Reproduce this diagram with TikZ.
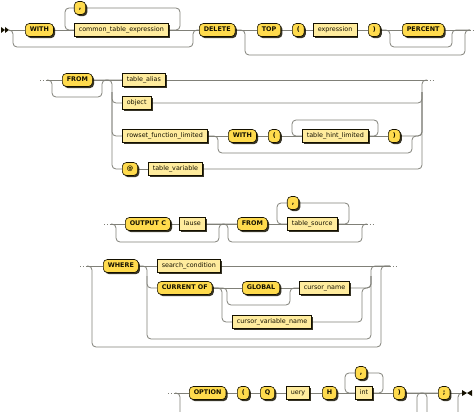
\documentclass[tikz,border=0pt]{standalone}
\usepackage{fontspec}
\setsansfont{DejaVu Sans}
\usetikzlibrary{backgrounds, shadows}

\definecolor{termfill}{RGB}{255,219,77}
\definecolor{ntfill}{RGB}{255,236,158}
\definecolor{boxline}{RGB}{20,16,0}
\definecolor{trackcol}{RGB}{128,128,120}

\tikzset{
  box/.style = {draw=boxline, line width=0.6pt, anchor=west,
    minimum height=13pt, inner xsep=4.5pt, inner ysep=0pt,
    text height=4.7pt, text depth=1.3pt, text=boxline,
    font=\sffamily\fontsize{6.4}{7}\selectfont,
    drop shadow={shadow xshift=1.6pt, shadow yshift=-1.6pt, fill=boxline, opacity=0.85}},
  term/.style = {box, fill=termfill, rounded corners=4pt,
    font=\sffamily\bfseries\fontsize{6.4}{7}\selectfont},
  nonterm/.style = {box, fill=ntfill},
  track/.style = {draw=trackcol, line width=0.8pt, rounded corners=4pt},
  lead/.style = {draw=trackcol, line width=0.8pt, dotted},
  tip/.style = {fill=boxline},
}

\begin{document}
\begin{tikzpicture}[x=1pt, y=-1pt]
  \useasboundingbox (0,0) rectangle (474,412);

  % row 1: WITH ... DELETE TOP ( expression ) PERCENT
  \node[term] (with) at (25,30) {WITH};
  \node[nonterm] (cte) at (74,30) {common\_table\_expression};
  \node[term, anchor=center] (comma1) at (80,8) {,};
  \node[term] (delete) at (199,30) {DELETE};
  \node[term] (top) at (257,30) {TOP};
  \node[term] (lpar1) at (292,30) {(};
  \node[nonterm] (expr) at (313,30) {expression};
  \node[term] (rpar1) at (368,30) {)};
  \node[term] (percent) at (402,30) {PERCENT};
  \coordinate (start1) at (9,30);
  \coordinate (skipA) at (13,47);
  \coordinate (skipB) at (193,30);
  \coordinate (loop1A) at (180,8);
  \coordinate (loop1B) at (65,30);
  \coordinate (skipC) at (245,55);
  \coordinate (skipD) at (465,30);
  \coordinate (skipE) at (390,47);
  \coordinate (skipF) at (452,30);
  \coordinate (end1) at (470,30);

  % row 2: FROM and its table choice
  \node[term] (from) at (62,80) {FROM};
  \node[nonterm] (alias) at (122,80) {table\_alias};
  \node[nonterm] (object) at (122,103) {object};
  \node[nonterm] (rowset) at (122,136) {rowset\_function\_limited};
  \node[term] (with2) at (228,136) {WITH};
  \node[term] (lpar2) at (268,136) {(};
  \node[nonterm] (hint) at (302,136) {table\_hint\_limited};
  \node[term] (rpar2) at (388,136) {)};
  \node[term] (atsign) at (122,169) {@};
  \node[nonterm] (tvar) at (148,169) {table\_variable};
  \coordinate (lead2) at (40,80);
  \coordinate (start2) at (47,80);
  \coordinate (fromA) at (52,97);
  \coordinate (fromB) at (102,80);
  \coordinate (choice2) at (112,92);
  \coordinate (choice2B) at (112,169);
  \coordinate (hintA) at (218,153);
  \coordinate (hintB) at (412,136);
  \coordinate (loop2A) at (378,120);
  \coordinate (loop2B) at (292,136);
  \coordinate (merge2) at (422,92);
  \coordinate (merge2T) at (422,80);
  \coordinate (end2) at (427,80);

  % row 3: OUTPUT C lause FROM table_source
  \node[term] (outc) at (125,224) {OUTPUT C};
  \node[nonterm] (lause) at (179,224) {lause};
  \node[term] (from3) at (237,224) {FROM};
  \node[nonterm] (tsrc) at (287,224) {table\_source};
  \node[term, anchor=center] (comma3) at (293,203) {,};
  \coordinate (lead3) at (104,224);
  \coordinate (start3) at (111,224);
  \coordinate (outA) at (116,242);
  \coordinate (outB) at (219,224);
  \coordinate (from3A) at (228,242);
  \coordinate (from3B) at (362,224);
  \coordinate (loop3A) at (349,203);
  \coordinate (loop3B) at (277,224);
  \coordinate (end3) at (367,224);

  % row 4: WHERE
  \node[term] (where) at (103,266) {WHERE};
  \node[nonterm] (cond) at (157,266) {search\_condition};
  \node[term] (cur) at (157,288) {CURRENT OF};
  \node[term] (global) at (242,288) {GLOBAL};
  \node[nonterm] (cname) at (299,288) {cursor\_name};
  \node[nonterm] (cvar) at (232,322) {cursor\_variable\_name};
  \coordinate (lead4) at (80,266);
  \coordinate (start4) at (87,266);
  \coordinate (whereA) at (92,347);
  \coordinate (whereB) at (381,266);
  \coordinate (choice4A) at (147,339);
  \coordinate (choice4B) at (371,266);
  \coordinate (choice4) at (147,276);
  \coordinate (merge4) at (371,276);
  \coordinate (globA) at (227,305);
  \coordinate (globB) at (290,288);
  \coordinate (cvarA) at (222,322);
  \coordinate (cvarB) at (362,288);
  \coordinate (end4) at (390,266);

  % row 5: OPTION ( Q uery H int ) ;
  \node[term] (option) at (189,393) {OPTION};
  \node[term] (lpar5) at (237,393) {(};
  \node[term] (q) at (260,393) {Q};
  \node[nonterm] (uery) at (286,393) {uery};
  \node[term] (h) at (322,393) {H};
  \node[nonterm] (int) at (355,393) {int};
  \node[term, anchor=center] (comma5) at (361,373) {,};
  \node[term] (rpar5) at (393,393) {)};
  \node[term] (semi) at (438,393) {;};
  \coordinate (lead5) at (168,393);
  \coordinate (start5) at (175,393);
  \coordinate (optA) at (180,422);
  \coordinate (optB) at (417,393);
  \coordinate (semiA) at (427,422);
  \coordinate (semiB) at (458,393);
  \coordinate (loop5A) at (383,373);
  \coordinate (loop5B) at (345,393);
  \coordinate (end5) at (462,393);

  \begin{scope}[on background layer]
    % row 1
    \fill[tip] (1,27) -- (5,30) -- (1,33) -- cycle;
    \fill[tip] (5,27) -- (9,30) -- (5,33) -- cycle;
    \draw[track] (start1) -- (with.west);
    \draw[track] (with.east) -- (cte.west);
    \draw[track] (cte.east) -- (delete.west);
    \draw[track] (start1) -| (skipA) -| (skipB) -- (delete.west);
    \draw[track] (cte.east) -| (loop1A) -- (comma1.east);
    \draw[track] (comma1.west) -| (loop1B) -- (cte.west);
    \draw[track] (delete.east) -- (top.west);
    \draw[track] (top.east) -- (lpar1.west);
    \draw[track] (lpar1.east) -- (expr.west);
    \draw[track] (expr.east) -- (rpar1.west);
    \draw[track] (rpar1.east) -- (percent.west);
    \draw[track] (percent.east) -- (end1);
    \draw[track] (delete.east) -| (skipC) -| (skipD) -- (end1);
    \draw[track] (rpar1.east) -| (skipE) -| (skipF) -- (end1);
    \draw[lead] (end1) -- ++(6,0);

    % row 2
    \draw[lead] (lead2) -- (start2);
    \draw[track] (start2) -- (from.west);
    \draw[track] (start2) -| (fromA) -| (fromB) -- (alias.west);
    \draw[track] (from.east) -- (alias.west);
    \draw[track] (from.east) -| (choice2B) -- (atsign.west);
    \draw[track] (choice2) |- (object.west);
    \draw[track] (choice2) |- (rowset.west);
    \draw[track] (alias.east) -- (end2);
    \draw[track] (object.east) -| (merge2);
    \draw[track] (rowset.east) -- (with2.west);
    \draw[track] (with2.east) -- (lpar2.west);
    \draw[track] (lpar2.east) -- (hint.west);
    \draw[track] (hint.east) -- (rpar2.west);
    \draw[track] (hint.east) -| (loop2A) -| (loop2B) -- (hint.west);
    \draw[track] (rowset.east) -| (hintA) -| (hintB) -| (merge2);
    \draw[track] (rpar2.east) -| (merge2);
    \draw[track] (atsign.east) -- (tvar.west);
    \draw[track] (tvar.east) -| (merge2T) -- (end2);
    \draw[lead] (end2) -- ++(7,0);

    % row 3
    \draw[lead] (lead3) -- (start3);
    \draw[track] (start3) -- (outc.west);
    \draw[track] (outc.east) -- (lause.west);
    \draw[track] (lause.east) -- (from3.west);
    \draw[track] (start3) -| (outA) -| (outB) -- (from3.west);
    \draw[track] (from3.east) -- (tsrc.west);
    \draw[track] (tsrc.east) -- (end3);
    \draw[track] (tsrc.east) -| (loop3A) -- (comma3.east);
    \draw[track] (comma3.west) -| (loop3B) -- (tsrc.west);
    \draw[track] (lause.east) -| (from3A) -| (from3B) -- (end3);
    \draw[lead] (end3) -- ++(7,0);

    % row 4
    \draw[lead] (lead4) -- (start4);
    \draw[track] (start4) -- (where.west);
    \draw[track] (start4) -| (whereA) -| (whereB) -- (end4);
    \draw[track] (where.east) -- (cond.west);
    \draw[track] (cond.east) -- (end4);
    \draw[track] (where.east) -| (choice4A) -| (choice4B) -- (end4);
    \draw[track] (choice4) |- (cur.west);
    \draw[track] (cur.east) -- (global.west);
    \draw[track] (global.east) -- (cname.west);
    \draw[track] (cur.east) -| (globA) -| (globB) -- (cname.west);
    \draw[track] (cur.east) -| (cvarA) -- (cvar.west);
    \draw[track] (cname.east) -| (merge4);
    \draw[track] (cvar.east) -| (cvarB) -| (merge4);
    \draw[lead] (end4) -- ++(7,0);

    % row 5
    \draw[lead] (lead5) -- (start5);
    \draw[track] (start5) -- (option.west);
    \draw[track] (start5) -| (optA) -| (optB) -- (semi.west);
    \draw[track] (option.east) -- (lpar5.west);
    \draw[track] (lpar5.east) -- (q.west);
    \draw[track] (q.east) -- (uery.west);
    \draw[track] (uery.east) -- (h.west);
    \draw[track] (h.east) -- (int.west);
    \draw[track] (int.east) -- (rpar5.west);
    \draw[track] (int.east) -| (loop5A) -- (comma5.east);
    \draw[track] (comma5.west) -| (loop5B) -- (int.west);
    \draw[track] (rpar5.east) -- (semi.west);
    \draw[track] (rpar5.east) -| (semiA) -| (semiB) -- (end5);
    \draw[track] (semi.east) -- (end5);
    \fill[tip] (462,390) -- (467,393) -- (462,396) -- cycle;
    \fill[tip] (472,390) -- (467,393) -- (472,396) -- cycle;
  \end{scope}
\end{tikzpicture}
\end{document}
